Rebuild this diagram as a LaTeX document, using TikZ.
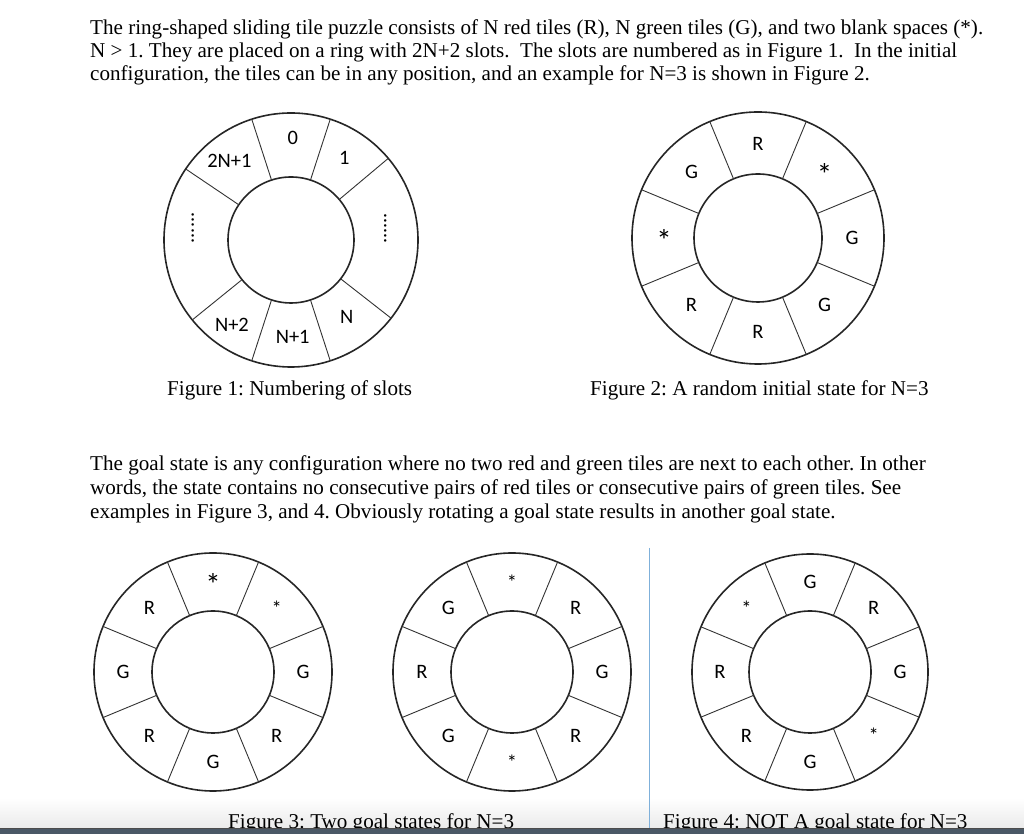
\documentclass[tikz,border=0pt]{standalone}
\usepackage{fontspec}
\setmainfont{Liberation Serif}
\newfontfamily\tilefont{Carlito}
\usepackage{tikz}
\usetikzlibrary{positioning,calc}
\usepackage{xcolor}
\definecolor{barslate}{HTML}{4A5866}
\definecolor{rulecol}{HTML}{7FB0DA}
\newcommand{\bigast}{{\fontsize{31}{32}\selectfont\raisebox{-0.45em}[0pt][0pt]{*}}}
\newcommand{\smallast}{*}

\begin{document}
\frenchspacing
\begin{tikzpicture}[x=1pt, y=1pt,
    every node/.style={inner sep=0pt},
    txt/.style={anchor=base west, font=\fontsize{21.1}{24}\selectfont},
    ringline/.style={line width=1.6pt, draw=black!85},
    slotline/.style={line width=0.9pt, draw=black!80},
    tile/.style={font=\tilefont\fontsize{20.5}{24}\selectfont}]
\fill[white] (0,0) rectangle (1024,834);
\useasboundingbox (0,0) rectangle (1024,834);
\shade[top color=white, bottom color=black!8] (0,6) rectangle (1024,36);

% Text, part 1
\node[txt] (pa1) at (90,799) {The ring-shaped sliding tile puzzle consists of N red tiles (R), N green tiles (G), and two blank spaces (*).};
\node[txt] (pa2) at (90,776) {N > 1. They are placed on a ring with 2N+2 slots.\ \ The slots are numbered as in Figure 1.\ \ In the initial};
\node[txt] (pa3) at (90,753) {configuration, the tiles can be in any position, and an example for N=3 is shown in Figure 2.};

% Figure 1
\coordinate (c1) at (291,594);
\draw[ringline] (c1) circle (127);
\draw[ringline] (c1) circle (63);
\foreach \a in {108,72,40,-38,-72,-108,-141,146}
  \draw[slotline] ($(c1)+(\a:63)$) -- ($(c1)+(\a:127)$);
\node[tile] (n0) at ($(c1)+(89:102)$) {0};
\node[tile] (n1) at ($(c1)+(57:98)$) {1};
\node[tile] (n2n1) at ($(c1)+(128:100)$) {2N+1};
\node[tile, rotate=90] (dotl) at ($(c1)+(173:99)$) {......};
\node[tile, rotate=90] (dotr) at ($(c1)+(7:95)$) {......};
\node[tile] (nn2) at ($(c1)+(-125:103)$) {N+2};
\node[tile] (nn1) at ($(c1)+(-89:97)$) {N+1};
\node[tile] (nn) at ($(c1)+(-54:95)$) {N};
\node[txt] (cap1) at (167,438) {Figure 1: Numbering of slots};

% Figure 2
\coordinate (c2) at (758,596);
\draw[ringline] (c2) circle (126);
\draw[ringline] (c2) circle (64);
\foreach \a in {22.5,67.5,...,337.5}
  \draw[slotline] ($(c2)+(\a:64)$) -- ($(c2)+(\a:126)$);
\foreach \ang/\lab [count=\i] in {90/R,45/\bigast,0/G,-45/G,-90/R,-135/R,180/\bigast,135/G}
  \node[tile] (fb-\i) at ($(c2)+(\ang:94)$) {\lab};
\node[txt] (cap2) at (590,438) {Figure 2: A random initial state for N=3};

% Text, part 2
\node[txt] (pb1) at (90,363) {The goal state is any configuration where no two red and green tiles are next to each other. In other};
\node[txt] (pb2) at (90,339) {words, the state contains no consecutive pairs of red tiles or consecutive pairs of green tiles. See};
\node[txt] (pb3) at (90,315) {examples in Figure 3, and 4. Obviously rotating a goal state results in another goal state.};

% Figure 3 (two rings)
\coordinate (c3) at (213,162);
\coordinate (c4) at (512,162);
\foreach \c in {c3,c4} {
  \draw[ringline] (\c) circle (119);
  \draw[ringline] (\c) circle (61);
  \foreach \a in {22.5,67.5,...,337.5}
    \draw[slotline] ($(\c)+(\a:61)$) -- ($(\c)+(\a:119)$);
}
\foreach \ang/\lab [count=\i] in {90/\bigast,45/\smallast,0/G,-45/R,-90/G,-135/R,180/G,135/R}
  \node[tile] (fc-\i) at ($(c3)+(\ang:90)$) {\lab};
\foreach \ang/\lab [count=\i] in {90/\smallast,45/R,0/G,-45/R,-90/\smallast,-135/G,180/R,135/G}
  \node[tile] (fd-\i) at ($(c4)+(\ang:90)$) {\lab};
\node[txt] (cap3) at (228,5) {Figure 3: Two goal states for N=3};

% Figure 4
\draw[rulecol, line width=1pt] (649,286) -- (649,6);
\coordinate (c5) at (810,162);
\draw[ringline] (c5) circle (118);
\draw[ringline] (c5) circle (61);
\foreach \a in {22.5,67.5,...,337.5}
  \draw[slotline] ($(c5)+(\a:61)$) -- ($(c5)+(\a:118)$);
\foreach \ang/\lab [count=\i] in {90/G,45/R,0/G,-45/\smallast,-90/G,-135/R,180/R,135/\smallast}
  \node[tile] (fe-\i) at ($(c5)+(\ang:90)$) {\lab};
\node[txt] (cap4) at (663,5) {Figure 4: NOT A goal state for N=3};

% bottom bar
\fill[barslate] (0,0) rectangle (1024,6);
\draw[black!70, line width=0.8pt] (0,6) -- (1024,6);
\end{tikzpicture}
\end{document}
